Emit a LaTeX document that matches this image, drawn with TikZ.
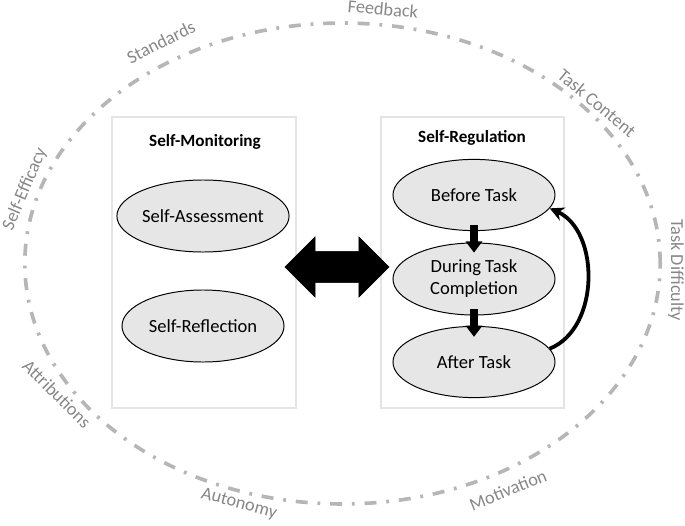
\documentclass[tikz,border=0pt]{standalone}
\usepackage{fontspec}
\setmainfont{Carlito}
\usepackage{xcolor}
\usetikzlibrary{
    shapes.geometric,
    shapes.arrows,
    positioning,
    arrows.meta
}
\definecolor{ringgray}{RGB}{182,182,182}
\definecolor{labelgray}{RGB}{135,135,135}
\definecolor{fillgray}{RGB}{230,230,230}
\definecolor{framegray}{RGB}{228,228,228}

\begin{document}
\begin{tikzpicture}[
      x=0.025cm, y=-0.025cm,
      panel/.style={draw=framegray, line width=1.2pt, minimum width=4.6cm, minimum height=7.28cm},
      heading/.style={font=\fontsize{12.2}{14}\selectfont\bfseries},
      phase/.style={ellipse, draw, fill=fillgray, line width=0.7pt, minimum width=4.05cm, minimum height=1.78cm, inner sep=0pt, align=center, font=\fontsize{13.2}{15.6}\selectfont},
      factor/.style={font=\fontsize{13}{15}\selectfont, text=labelgray},
      ring/.style={draw=ringgray, line width=2.6pt, dash pattern=on 8.5pt off 7pt on 2pt off 7pt},
      down/.style={-{Triangle[length=8pt,width=11.5pt]}, line width=5.7pt},
      back/.style={-{Stealth[length=10pt,width=10pt]}, line width=2.7pt}
    ]
    \useasboundingbox (0,0) rectangle (685,526);

    % outer influences
    \draw[ring] (342.5,263.5) ellipse [x radius=7.94cm, y radius=6.01cm];
    \node[factor, rotate=-5] (feedback) at (383,9) {Feedback};
    \node[factor, rotate=27] (standards) at (161,42) {Standards};
    \node[factor, rotate=-40] (content) at (597,103) {Task Content};
    \node[factor, rotate=67] (efficacy) at (25,189) {Self-Efficacy};
    \node[factor, rotate=-90] (difficulty) at (676,270) {Task Difficulty};
    \node[factor, rotate=-45] (attrib) at (57,394) {Attributions};
    \node[factor, rotate=-15] (autonomy) at (239,504) {Autonomy};
    \node[factor, rotate=22] (motivation) at (508,490) {Motivation};

    % the two panels
    \node[panel] (monitor) at (204,262.5) {};
    \node[panel, minimum width=4.575cm] (regulate) at (472.5,262.5) {};
    \node[heading] at (205,142) {Self-Monitoring};
    \node[heading] at (472,138) {Self-Regulation};

    \node[phase, minimum height=1.8cm] (assess) at (203,216) {Self-Assessment};
    \node[phase, minimum height=1.8cm] (reflect) at (203,326) {Self-Reflection};

    \node[phase] (before) at (474,195) {Before Task};
    \node[phase, minimum height=1.8cm] (during) at (474,279) {During Task\\Completion};
    \node[phase] (after) at (474,362) {After Task};

    \draw[down] ([yshift=4.3pt]before.south) -- ([yshift=-7.2pt]during.north);
    \draw[down] ([yshift=4.3pt]during.south) -- ([yshift=-7.8pt]after.north);
    \draw[back] (after.10) to[out=22, in=-24] (before.-10);

    \node[double arrow, fill=black, draw=black, minimum height=2.6cm, minimum width=1.5cm,
      double arrow head extend=0.36cm, inner xsep=0pt, inner ysep=0.385cm] (link) at (337,267) {};
  \end{tikzpicture}
\end{document}
